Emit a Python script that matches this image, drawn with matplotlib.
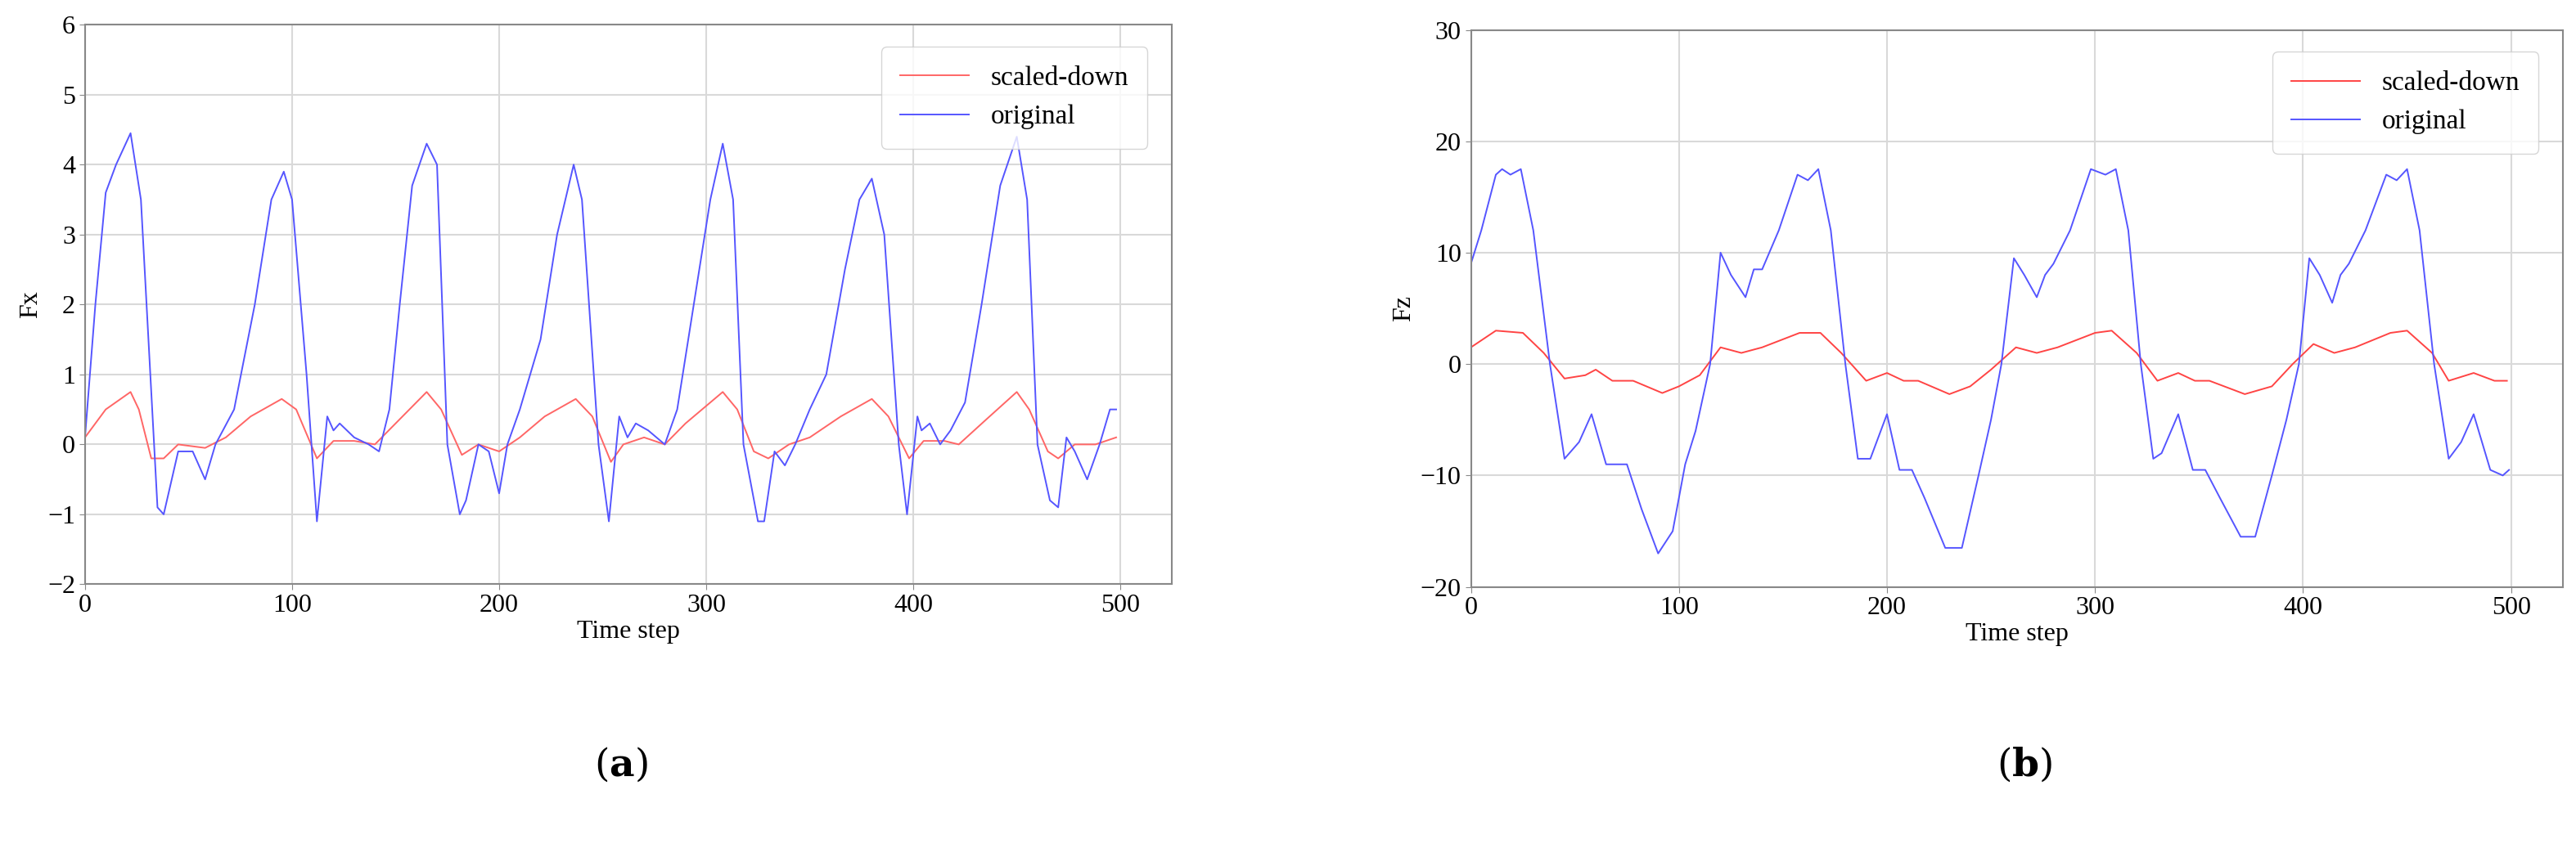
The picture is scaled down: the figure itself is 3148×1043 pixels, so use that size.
import matplotlib
matplotlib.use("Agg")
import matplotlib.pyplot as plt

fx_blue_t = [0,5,10,15,22,27,35,38,45,52,58,63,72,82,90,96,100,107,112,117,120,123,130,137,142,147,152,158,165,170,175,181,184,190,195,200,204,210,220,228,236,240,248,253,258,262,266,272,280,286,294,302,308,313,318,325,328,333,338,343,350,358,367,374,380,386,393,397,402,404,408,413,418,425,433,442,450,455,460,466,470,474,478,484,490,495,498]
fx_blue_v = [0.1,2.0,3.6,4.0,4.45,3.5,-0.9,-1.0,-0.1,-0.1,-0.5,0.0,0.5,2.0,3.5,3.9,3.5,1.0,-1.1,0.4,0.2,0.3,0.1,0.0,-0.1,0.5,2.0,3.7,4.3,4.0,0.0,-1.0,-0.8,0.0,-0.1,-0.7,0.0,0.5,1.5,3.0,4.0,3.5,0.0,-1.1,0.4,0.1,0.3,0.2,0.0,0.5,2.0,3.5,4.3,3.5,0.0,-1.1,-1.1,-0.1,-0.3,0.0,0.5,1.0,2.5,3.5,3.8,3.0,0.0,-1.0,0.4,0.2,0.3,0.0,0.2,0.6,2.0,3.7,4.4,3.5,0.0,-0.8,-0.9,0.1,-0.1,-0.5,0.0,0.5,0.5]
fx_red_t = [0,10,22,26,32,38,45,58,68,80,95,102,112,120,130,140,150,165,172,182,190,200,210,222,237,245,254,260,270,280,290,308,315,323,330,340,350,365,380,388,398,405,415,422,435,450,456,465,470,478,488,498]
fx_red_v = [0.1,0.5,0.75,0.5,-0.2,-0.2,0.0,-0.05,0.1,0.4,0.65,0.5,-0.2,0.05,0.05,0.0,0.3,0.75,0.5,-0.15,0.0,-0.1,0.1,0.4,0.65,0.4,-0.25,0.0,0.1,0.0,0.3,0.75,0.5,-0.1,-0.2,0.0,0.1,0.4,0.65,0.4,-0.2,0.05,0.05,0.0,0.35,0.75,0.5,-0.1,-0.2,0.0,0.0,0.1]

fz_blue_t = [0,5,12,15,19,24,30,38,45,52,58,65,75,82,90,97,103,108,115,120,125,132,136,140,148,157,162,167,173,180,186,192,200,206,212,218,228,236,244,250,255,261,266,272,276,280,288,298,305,310,316,322,328,332,340,347,353,360,370,377,385,392,398,403,408,414,418,422,430,440,445,450,456,463,470,476,482,490,496,499]
fz_blue_v = [9,12,17,17.5,17,17.5,12,0,-8.5,-7,-4.5,-9,-9,-13,-17,-15,-9,-6,0,10,8,6,8.5,8.5,12,17,16.5,17.5,12,0,-8.5,-8.5,-4.5,-9.5,-9.5,-12,-16.5,-16.5,-10,-5,0,9.5,8,6,8,9,12,17.5,17,17.5,12,0,-8.5,-8,-4.5,-9.5,-9.5,-12,-15.5,-15.5,-10,-5,0,9.5,8,5.5,8,9,12,17,16.5,17.5,12,0,-8.5,-7,-4.5,-9.5,-10,-9.5]
fz_red_t = [0,12,25,35,45,55,60,68,78,92,100,110,120,130,140,158,168,178,190,200,208,215,230,240,250,262,272,282,300,308,320,330,340,348,355,372,385,395,405,415,425,442,450,462,470,482,492,498]
fz_red_v = [1.5,3,2.8,1,-1.3,-1,-0.5,-1.5,-1.5,-2.6,-2,-1,1.5,1,1.5,2.8,2.8,1,-1.5,-0.8,-1.5,-1.5,-2.7,-2,-0.5,1.5,1,1.5,2.8,3,1,-1.5,-0.8,-1.5,-1.5,-2.7,-2,0,1.8,1,1.5,2.8,3,1,-1.5,-0.8,-1.5,-1.5]

plt.rcParams['font.family'] = ['Liberation Serif', 'DejaVu Serif']
plt.rcParams['mathtext.fontset'] = 'dejavuserif'
fig = plt.figure(figsize=(31.48, 10.43), dpi=100)

def setup(ax, ylabel, ylim, yticks):
    ax.set_xlim(0, 525)
    ax.set_ylim(*ylim)
    ax.set_yticks(yticks)
    ax.set_xticks([0, 100, 200, 300, 400, 500])
    ax.grid(True, color='#d9d9d9', linewidth=1.5)
    ax.set_axisbelow(True)
    for s in ax.spines.values():
        s.set_color('#888888'); s.set_linewidth(1.5)
    ax.tick_params(labelsize=23, color='#888888', length=5)
    ax.set_xlabel('Time step', fontsize=23, labelpad=2)
    ax.set_ylabel(ylabel, fontsize=23)
    ax.legend(loc='upper right', fontsize=24, frameon=True, borderpad=0.7, handlelength=2.5, bbox_to_anchor=(0.99, 0.985))

ax1 = fig.add_axes([0.033, 0.315, 0.422, 0.656])
ax1.plot(fx_red_t, fx_red_v, color='#ff6666', lw=1.4, label='scaled-down')
ax1.plot(fx_blue_t, fx_blue_v, color='#5555ff', lw=1.4, label='original')
setup(ax1, 'Fx', (-2, 6), range(-2, 7))

ax2 = fig.add_axes([0.571, 0.312, 0.424, 0.653])
ax2.plot(fz_red_t, fz_red_v, color='#ff4444', lw=1.4, label='scaled-down')
ax2.plot(fz_blue_t, fz_blue_v, color='#5555ff', lw=1.4, label='original')
setup(ax2, 'Fz', (-20, 30), range(-20, 31, 10))

fig.text(0.241, 0.09, r'($\mathbf{a}$)', fontsize=34, ha='center', family=['DejaVu Serif'])
fig.text(0.786, 0.09, r'($\mathbf{b}$)', fontsize=34, ha='center', family=['DejaVu Serif'])
fig.savefig('out.png', dpi=100)
